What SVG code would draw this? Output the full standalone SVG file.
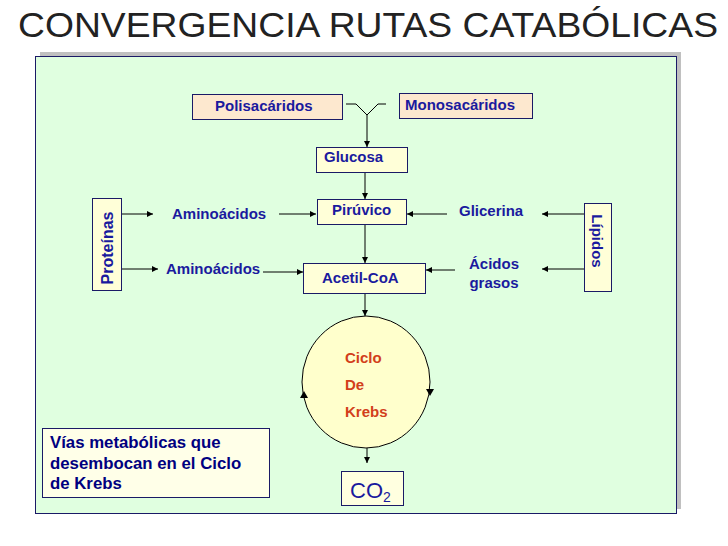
<svg xmlns="http://www.w3.org/2000/svg" width="728" height="546" viewBox="0 0 728 546">
<defs>
<marker id="ah" viewBox="0 0 10 10" refX="10" refY="5" markerWidth="7" markerHeight="6" markerUnits="userSpaceOnUse" orient="auto">
<path d="M0,0 L10,5 L0,10 z" fill="#000"/>
</marker>
<style>
.lbl{font-family:"Liberation Sans",Arial,sans-serif;font-weight:bold;font-size:15px;fill:#1a1a9e}
.box{stroke:#1a1a66;stroke-width:1}
.peach{fill:#fde8cf}
.cream{fill:#ffffd8}
.ln{stroke:#000;stroke-width:1;fill:none}
.arr{stroke:#000;stroke-width:1;fill:none;marker-end:url(#ah)}
.krebs{font-family:"Liberation Sans",Arial,sans-serif;font-weight:bold;font-size:15px;fill:#d2401a}
.note{font-family:"Liberation Sans",Arial,sans-serif;font-weight:bold;font-size:16.8px;fill:#000080}
</style>
</defs>
<rect width="728" height="546" fill="#fff"/>
<text x="18" y="37" font-family="Liberation Sans,Arial,sans-serif" font-size="35" fill="#222" textLength="700" lengthAdjust="spacingAndGlyphs">CONVERGENCIA RUTAS CATABÓLICAS</text>
<rect x="40" y="52" width="641" height="457" fill="#c0c0c0"/>
<rect x="35.5" y="56.5" width="641" height="457" fill="#e0ffe0" stroke="#1a1a66" stroke-width="1"/>

<g id="connectors">
<polyline class="ln" points="346,104 356,104 367,115 378,104 386,104"/>
<line class="arr" x1="367" y1="115" x2="367" y2="147"/>
<line class="arr" x1="365" y1="172" x2="365" y2="199"/>
<line class="arr" x1="365" y1="224" x2="365" y2="263"/>
<line class="arr" x1="365" y1="294" x2="365" y2="316"/>
<line class="arr" x1="121" y1="214" x2="153" y2="214"/>
<line class="arr" x1="279" y1="214" x2="316" y2="214"/>
<line class="arr" x1="121" y1="269" x2="158" y2="269"/>
<line class="arr" x1="263" y1="272" x2="303" y2="272"/>
<line class="arr" x1="584" y1="214" x2="542" y2="214"/>
<line class="arr" x1="447" y1="214" x2="407" y2="214"/>
<line class="arr" x1="584" y1="269" x2="542" y2="269"/>
<line class="arr" x1="455" y1="270" x2="426" y2="270"/>
<line class="arr" x1="367" y1="448" x2="367" y2="463"/>
</g>

<g id="polisacaridos"><rect class="box peach" x="192.5" y="94.5" width="150" height="25"/><text class="lbl" x="215" y="111">Polisacáridos</text></g>
<g id="monosacaridos"><rect class="box peach" x="399.5" y="93.5" width="133" height="25"/><text class="lbl" x="405" y="110">Monosacáridos</text></g>
<g id="glucosa"><rect class="box cream" x="316.5" y="147.5" width="91" height="25"/><text class="lbl" x="324" y="162">Glucosa</text></g>
<g id="piruvico"><rect class="box cream" x="317.5" y="199.5" width="89" height="25"/><text class="lbl" x="332" y="215">Pirúvico</text></g>
<g id="acetilcoa"><rect class="box cream" x="303.5" y="263.5" width="122" height="30"/><text class="lbl" x="322" y="283">Acetil-CoA</text></g>
<g id="proteinas"><rect class="box cream" x="92.5" y="198.5" width="29" height="92"/><text class="lbl" style="font-size:16px" transform="translate(112.5,248) rotate(-90)" text-anchor="middle">Proteínas</text></g>
<g id="lipidos"><rect class="box cream" x="584.5" y="203.5" width="27" height="88"/><text class="lbl" transform="translate(592,241) rotate(90)" text-anchor="middle">Lípidos</text></g>
<g id="aminoacidos1"><text class="lbl" x="172" y="219">Aminoácidos</text></g>
<g id="aminoacidos2"><text class="lbl" x="166" y="274">Aminoácidos</text></g>
<g id="glicerina"><text class="lbl" x="459" y="216">Glicerina</text></g>
<g id="acidosgrasos"><text class="lbl" x="494" y="269" text-anchor="middle">Ácidos</text><text class="lbl" x="494" y="288" text-anchor="middle">grasos</text></g>

<g id="krebs">
<ellipse cx="366" cy="382" rx="64" ry="66" fill="#ffffcc" stroke="#000" stroke-width="1"/>
<path d="M304,391 l-4,7 h8 z" fill="#000"/>
<path d="M430,396 l-4,-7 h8 z" fill="#000"/>
<text class="krebs" x="345" y="363">Ciclo</text>
<text class="krebs" x="345" y="390">De</text>
<text class="krebs" x="345" y="417">Krebs</text>
</g>
<g id="co2"><rect class="box" fill="#ffffe0" x="341.5" y="471.5" width="62" height="34"/><text x="350" y="498" font-family="Liberation Sans,Arial,sans-serif" font-size="22" fill="#1a1a9e">CO<tspan font-size="14" dy="4">2</tspan></text></g>
<g id="nota"><rect class="box" fill="#ffffe8" x="42.5" y="428.5" width="227" height="69"/>
<text class="note" x="50" y="448">Vías metabólicas que</text>
<text class="note" x="50" y="469">desembocan en el Ciclo</text>
<text class="note" x="50" y="489">de Krebs</text>
</g>
</svg>
